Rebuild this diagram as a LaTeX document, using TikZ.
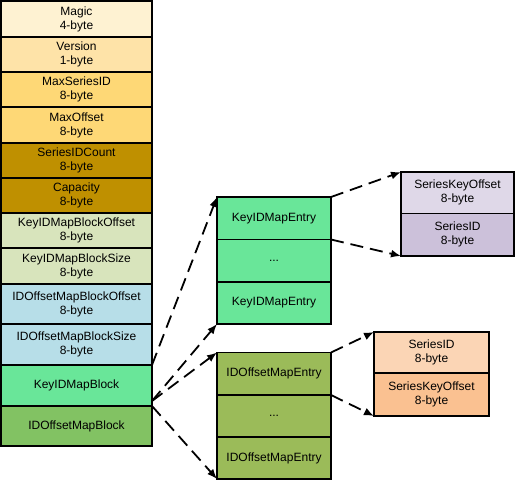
\documentclass[tikz,border=0pt]{standalone}
\usepackage{fontspec}
\setmainfont{Liberation Sans}
\usetikzlibrary{arrows.meta,calc}
\definecolor{cMagic}{HTML}{FEF2D2}
\definecolor{cVersion}{HTML}{FEE3A8}
\definecolor{cMax}{HTML}{FED876}
\definecolor{cGold}{HTML}{BF9000}
\definecolor{cOlive}{HTML}{D8E4BC}
\definecolor{cBlue}{HTML}{B7DEE8}
\definecolor{cGreen}{HTML}{69E699}
\definecolor{cGreenB}{HTML}{82C263}
\definecolor{cOliveE}{HTML}{9BBB59}
\definecolor{cPurA}{HTML}{DFD8E8}
\definecolor{cPurB}{HTML}{CCC1DA}
\definecolor{cOrA}{HTML}{FBD5B5}
\definecolor{cOrB}{HTML}{FAC191}
\begin{document}
\begin{tikzpicture}[x=1pt,y=-1pt,
  cell/.style={draw=black,line width=1.7pt,rectangle,inner sep=0pt,outer sep=0pt,align=center,
    font=\fontsize{12}{13.8}\selectfont},
  lcell/.style={cell,minimum width=151pt},
  ecell/.style={cell,minimum width=114pt},
  pcell/.style={cell,minimum width=113pt},
  ocell/.style={cell,minimum width=115pt},
  link/.style={line width=1.8pt,dash pattern=on 13pt off 7pt,-{Latex[length=10pt,width=8pt]}}]
\useasboundingbox (0,0) rectangle (518,482);
% left column
\node[lcell,fill=cMagic,minimum height=36pt] (magic) at (76.5,19) {Magic\\4-byte};
\node[lcell,fill=cVersion,minimum height=35pt] (version) at (76.5,54.5) {Version\\1-byte};
\node[lcell,fill=cMax,minimum height=35pt] (maxsid) at (76.5,89.5) {MaxSeriesID\\8-byte};
\node[lcell,fill=cMax,minimum height=36pt] (maxoff) at (76.5,125) {MaxOffset\\8-byte};
\node[lcell,fill=cGold,minimum height=35pt] (sidcount) at (76.5,160.5) {SeriesIDCount\\8-byte};
\node[lcell,fill=cGold,minimum height=35pt] (capacity) at (76.5,195.5) {Capacity\\8-byte};
\node[lcell,fill=cOlive,minimum height=35pt] (kboff) at (76.5,230.5) {KeyIDMapBlockOffset\\8-byte};
\node[lcell,fill=cOlive,minimum height=36pt] (kbsize) at (76.5,266) {KeyIDMapBlockSize\\8-byte};
\node[lcell,fill=cBlue,minimum height=40pt] (iboff) at (76.5,304) {IDOffsetMapBlockOffset\\8-byte};
\node[lcell,fill=cBlue,minimum height=41pt] (ibsize) at (76.5,344.5) {IDOffsetMapBlockSize\\8-byte};
\node[lcell,fill=cGreen,minimum height=41pt] (kblock) at (76.5,385.5) {KeyIDMapBlock};
\node[lcell,fill=cGreenB,minimum height=40pt] (iblock) at (76.5,426) {IDOffsetMapBlock};
% KeyIDMap entries
\node[ecell,fill=cGreen,minimum height=42.5pt] (ke1) at (274,218.25) {KeyIDMapEntry};
\node[ecell,fill=cGreen,minimum height=42.5pt] (ke2) at (274,260.75) {...};
\node[ecell,fill=cGreen,minimum height=42pt] (ke3) at (274,303) {KeyIDMapEntry};
% IDOffsetMap entries
\node[ecell,fill=cOliveE,minimum height=42.5pt] (ie1) at (274,373.75) {IDOffsetMapEntry};
\node[ecell,fill=cOliveE,minimum height=42pt] (ie2) at (274,416) {...};
\node[ecell,fill=cOliveE,minimum height=42pt] (ie3) at (274,458) {IDOffsetMapEntry};
% purple
\node[pcell,fill=cPurA,minimum height=41.5pt] (p1) at (457.5,192.75) {SeriesKeyOffset\\8-byte};
\node[pcell,fill=cPurB,minimum height=42.5pt] (p2) at (457.5,234.75) {SeriesID\\8-byte};
% orange
\node[ocell,fill=cOrA,minimum height=41pt] (o1) at (431.5,352.5) {SeriesID\\8-byte};
\node[ocell,fill=cOrB,minimum height=43pt] (o2) at (431.5,394.5) {SeriesKeyOffset\\8-byte};
% sources
\coordinate (ksrc) at ($(kblock.south east)+(0,-5)$);
% arrows from left column
\draw[link] (kblock.north east) -- (ke1.north west);
\draw[link] (ksrc) -- (ke3.south west);
\draw[link] (ksrc) -- (ie1.north west);
\draw[link] (iblock.north east) -- (ie3.south west);
% arrows to right boxes
\draw[link] (ke1.north east) -- (p1.north west);
\draw[link] (ke1.south east) -- (p2.south west);
\draw[link] (ie1.north east) -- (o1.north west);
\draw[link] (ie1.south east) -- (o2.south west);
\end{tikzpicture}
\end{document}
